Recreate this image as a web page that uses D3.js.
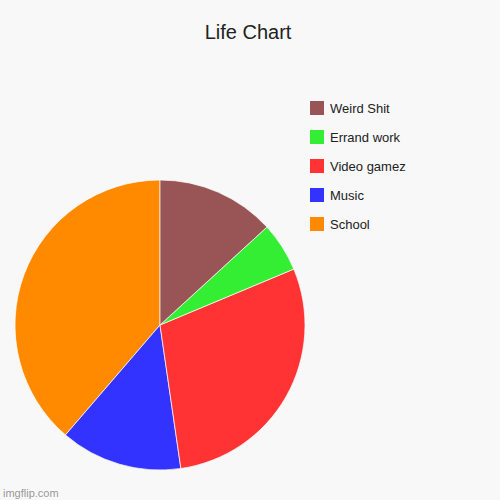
<!DOCTYPE html>
<html><head><meta charset="utf-8">
<script src="https://cdn.jsdelivr.net/npm/d3@7"></script>
<style>body{margin:0;background:#f8f8f8}</style></head>
<body><svg id="c" width="500" height="500"></svg>
<script>
const categories = ["School","Music","Video gamez","Errand work","Weird Shit"];
const values = [38.7, 13.6, 29.0, 5.5, 13.2];
const colors = ["#ff8a00","#3333ff","#ff3333","#33ee33","#995555"];

const svg = d3.select("#c");
svg.append("rect").attr("width",500).attr("height",500).attr("fill","#f8f8f8");
svg.append("text").attr("x",248).attr("y",39).attr("text-anchor","middle")
  .attr("font-family","Arial, Liberation Sans, sans-serif").attr("font-size",20).attr("fill","#222").text("Life Chart");

const pie = d3.pie().sort(null).startAngle(0).endAngle(-2*Math.PI).value(d=>d);
const arc = d3.arc().innerRadius(0).outerRadius(145);
const g = svg.append("g").attr("transform","translate(160,325)");
g.selectAll("path").data(pie(values)).join("path")
  .attr("d",arc).attr("fill",(d,i)=>colors[i]).attr("stroke","#fff").attr("stroke-width",0.7);

const y = d3.scalePoint().domain(categories).range([224,108]);
const lg = svg.append("g");
categories.forEach((c,i)=>{
  lg.append("rect").attr("x",310).attr("y",y(c)-7).attr("width",14).attr("height",14).attr("fill",colors[i]);
  lg.append("text").attr("x",330).attr("y",y(c)+5).attr("font-family","Arial, Liberation Sans, sans-serif")
    .attr("font-size",13).attr("fill","#222").text(c);
});
svg.append("text").attr("x",3).attr("y",497).attr("font-family","Arial, Liberation Sans, sans-serif")
  .attr("font-size",11).attr("fill","#999").text("imgflip.com");
</script></body></html>
